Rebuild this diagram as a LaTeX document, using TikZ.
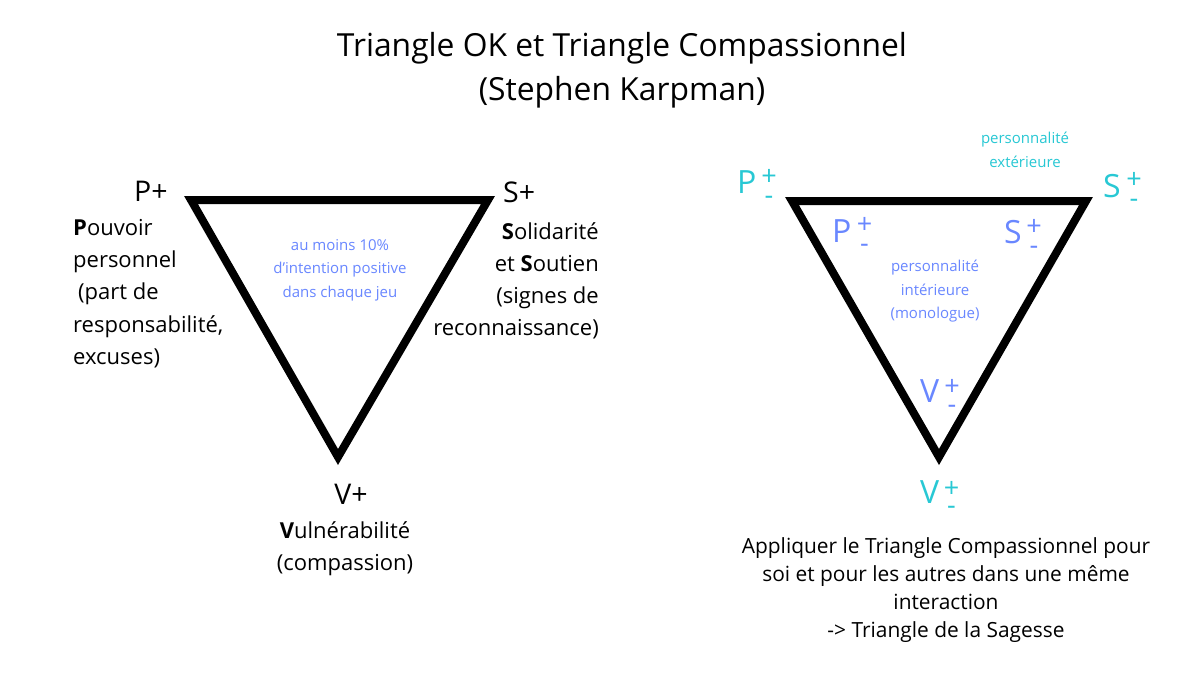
\documentclass[tikz,border=0pt]{standalone}
\usepackage{fontspec}
\setmainfont{Open Sans}
\definecolor{cyanc}{RGB}{40,200,212}
\definecolor{bluec}{RGB}{105,135,255}
\tikzset{
  tri/.style={line width=8pt, line join=miter, draw=black},
  big/.style={font=\fontsize{28.5}{32}\selectfont, inner sep=0pt},
  letter/.style={font=\fontsize{32}{36}\selectfont, inner sep=0pt, anchor=base west},
  body/.style={font=\fontsize{22}{32.3}\selectfont, inner sep=0pt},
  small/.style={font=\fontsize{15}{23.5}\selectfont, inner sep=0pt, align=center},
  plussign/.style={font=\fontsize{27}{27}\selectfont, inner sep=0pt, anchor=base, text height=0.62em, text depth=0pt},
  minussign/.style={font=\fontsize{27}{27}\selectfont, inner sep=0pt, anchor=base, text height=0.3em, text depth=0pt},
}
\begin{document}
\begin{tikzpicture}[x=1pt,y=-1pt]
\path[use as bounding box, fill=white] (0,0) rectangle (1200,675);
% title
\node[font=\fontsize{31.8}{44}\selectfont, inner sep=0pt, align=center, anchor=north] (title) at (622,32) {Triangle OK et Triangle Compassionnel\\(Stephen Karpman)};
% left triangle
\coordinate (lp) at (191,200);
\coordinate (ls) at (488,200);
\coordinate (lv) at (338,457);
\draw[tri] (lp) -- (ls) -- (lv) -- cycle;
\node[big, anchor=base west] (Pplus) at (134,201) {P+};
\node[big, anchor=base west] (Splus) at (503,202) {S+};
\node[big, anchor=base] (Vplus) at (351,504) {V+};
\node[body, align=left, anchor=north west] (ptext) at (73,219) {\textbf{P}ouvoir\\personnel\\\hspace*{5pt}(part de\\responsabilité,\\excuses)};
\node[body, align=right, anchor=north east] (stext) at (599,222) {\textbf{S}olidarité\\et \textbf{S}outien\\(signes de\\reconnaissance)};
\node[body, align=center, anchor=north] (vtext) at (345,521) {\textbf{V}ulnérabilité\\(compassion)};
\node[small, text=bluec, anchor=north] (inner) at (340,239) {au moins 10\%\\d'intention positive\\dans chaque jeu};
% right triangle
\coordinate (rp) at (792,201);
\coordinate (rs) at (1086,201);
\coordinate (rv) at (939,457);
\draw[tri] (rp) -- (rs) -- (rv) -- cycle;
\node[small, text=cyanc, anchor=north] (ext) at (1025,132) {personnalité\\extérieure};
\node[small, text=bluec, anchor=north] (int) at (935,260) {personnalité\\intérieure\\(monologue)};
% outer letters (cyan)
\node[letter, text=cyanc] (oP) at (737,193) {P};
\node[plussign, text=cyanc] (oPp) at (769,185.7) {+};
\node[minussign, text=cyanc] (oPm) at (769,204.5) {-};
\node[letter, text=cyanc] (oS) at (1103,197) {S};
\node[plussign, text=cyanc] (oSp) at (1134,188.7) {+};
\node[minussign, text=cyanc] (oSm) at (1134,207.5) {-};
\node[letter, text=cyanc] (oV) at (920,503) {V};
\node[plussign, text=cyanc] (oVp) at (951.5,497.2) {+};
\node[minussign, text=cyanc] (oVm) at (951.5,514.5) {-};
% inner letters (blue)
\node[letter, text=bluec] (iP) at (832,242) {P};
\node[plussign, text=bluec] (iPp) at (864.5,233.7) {+};
\node[minussign, text=bluec] (iPm) at (864.5,252.5) {-};
\node[letter, text=bluec] (iS) at (1004,243) {S};
\node[plussign, text=bluec] (iSp) at (1034,235.7) {+};
\node[minussign, text=bluec] (iSm) at (1034,254.5) {-};
\node[letter, text=bluec] (iV) at (920,402) {V};
\node[plussign, text=bluec] (iVp) at (952,395.7) {+};
\node[minussign, text=bluec] (iVm) at (952,413.5) {-};
% bottom text
\node[font=\fontsize{20.9}{28.2}\selectfont, inner sep=0pt, align=center, anchor=north] (bottom) at (946,537) {Appliquer le Triangle Compassionnel pour\\soi et pour les autres dans une même\\interaction\\-> Triangle de la Sagesse};
\end{tikzpicture}
\end{document}
